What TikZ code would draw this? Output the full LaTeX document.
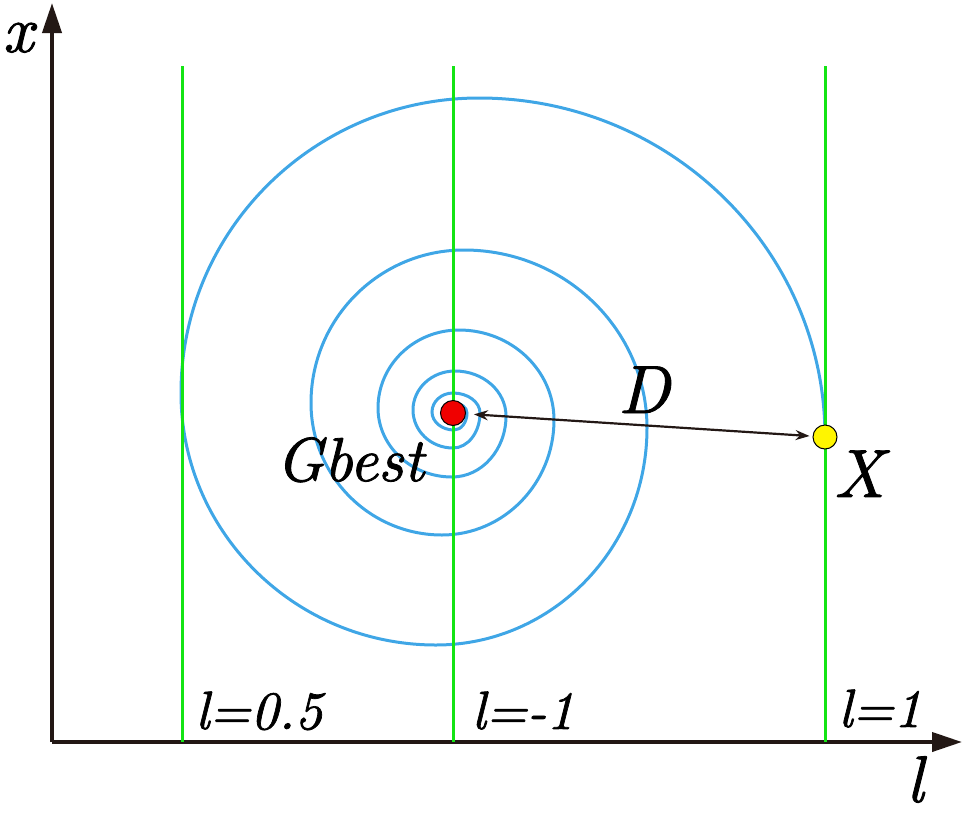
\documentclass[tikz,border=0pt]{standalone}
\usepackage{fontspec}
\setmainfont{lmroman10-regular.otf}[ItalicFont=lmroman10-italic.otf, ItalicFeatures={FakeBold=1.3}]
\usetikzlibrary{arrows.meta}
\definecolor{axiscol}{RGB}{35,24,21}
\definecolor{spiralblue}{RGB}{63,166,230}
\definecolor{levelgreen}{RGB}{20,228,20}
\definecolor{dotred}{RGB}{240,0,0}
\definecolor{dotyellow}{RGB}{255,245,0}
\tikzset{
  axisline/.style={draw=axiscol, line width=4pt, -{Triangle[length=30pt,width=19pt]}},
  levelline/.style={draw=levelgreen, line width=3pt},
  spiralline/.style={draw=spiralblue, line width=3pt},
  dist/.style={draw=axiscol, line width=2.2pt, {Stealth[length=14pt,width=10pt]}-{Stealth[length=14pt,width=10pt]}},
  pt/.style={circle, draw=black, line width=1pt, minimum size=25pt, inner sep=0pt},
  lab/.style={font=\fontsize{66}{70}\selectfont\itshape, inner sep=0pt, anchor=base},
  lvl/.style={font=\fontsize{54}{60}\selectfont\itshape, inner sep=0pt, anchor=base}
}
\begin{document}
\begin{tikzpicture}[x=1pt, y=-1pt]
\useasboundingbox (0,0) rectangle (967,812);
% spiral
\draw[spiralline] (825,437)
  .. controls (825,249.9) and (670,98) .. (479,98)
  .. controls (314.5,98) and (181,230.2) .. (181,393)
  .. controls (181,532.1) and (295.2,645) .. (436,645)
  .. controls (552.5,645) and (647,547.8) .. (647,428)
  .. controls (647,329.7) and (565,250) .. (464,250)
  .. controls (379.5,250) and (311,318.5) .. (311,403)
  .. controls (311,475.9) and (369.7,535) .. (442,535)
  .. controls (503.8,535) and (554,483.5) .. (554,420)
  .. controls (554,370.3) and (511.4,330) .. (459,330)
  .. controls (414.3,330) and (378,364.9) .. (378,408)
  .. controls (378,446.1) and (411.2,477) .. (452,477)
  .. controls (481.8,477) and (506,449.7) .. (506,416)
  .. controls (506,391.2) and (483.2,371) .. (455,371)
  .. controls (431.8,371) and (413,388.5) .. (413,410)
  .. controls (413,431) and (430.9,448) .. (453,448)
  .. controls (467.9,448) and (480,432.3) .. (480,413)
  .. controls (480,402) and (467.9,393) .. (453,393)
  .. controls (441.4,393) and (432,401.5) .. (432,412)
  .. controls (432,421.9) and (441.9,430) .. (454,430)
  .. controls (461.2,430) and (467,422.4) .. (467,413)
  .. controls (467,407.5) and (461.2,403) .. (454,403);
% axes
\coordinate (O) at (52,742);
\coordinate (ytip) at (52,3);
\coordinate (xtip) at (962,742);
\draw[axisline] (O) -- (ytip);
\draw[axisline] (O) -- (xtip);
% level lines
\coordinate (g1t) at (182,66); \coordinate (g1b) at (182,742);
\coordinate (g2t) at (453,66); \coordinate (g2b) at (453,742);
\coordinate (g3t) at (825,66); \coordinate (g3b) at (825,742);
\draw[levelline] (g1t) -- (g1b);
\draw[levelline] (g2t) -- (g2b);
\draw[levelline] (g3t) -- (g3b);
% points
\node[pt, fill=dotred] (gbest) at (453,413) {};
\node[pt, fill=dotyellow, minimum size=24pt] (xpos) at (825,437) {};
\draw[dist, shorten <=8pt, shorten >=3pt] (gbest) -- (xpos);
% labels
\node[lab] (xl) at (18,52) {x};
\node[lab] (ll) at (915,802) {l};
\node[lab, font=\fontsize{68}{72}\selectfont\itshape] (dl) at (644,413) {D};
\node[lab, font=\fontsize{68}{72}\selectfont\itshape] (Xl) at (859,497) {X};
\node[lab, font=\fontsize{62}{66}\selectfont\itshape] (gl) at (350,481) {Gbest};
\node[lvl] (l1) at (259,729) {l=0.5};
\node[lvl] (l2) at (523,729) {l=-1};
\node[lvl] (l3) at (880,727) {l=1};
\end{tikzpicture}
\end{document}
